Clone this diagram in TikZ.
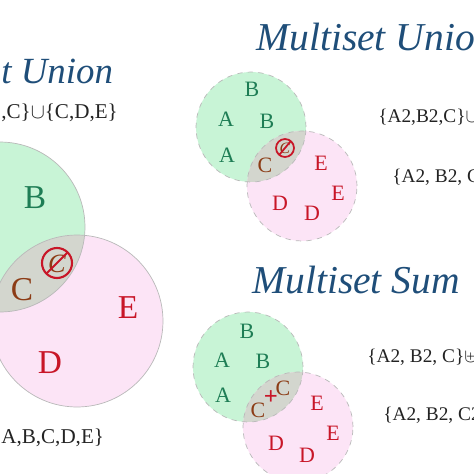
\documentclass[tikz,border=0pt]{standalone}
\usepackage{fontspec}
\setmainfont{Liberation Serif}
\usetikzlibrary{positioning}
\definecolor{slate}{RGB}{31,78,121}
\definecolor{mint}{RGB}{200,244,214}
\definecolor{blush}{RGB}{252,228,246}
\definecolor{overlap}{RGB}{211,214,206}
\definecolor{pine}{RGB}{30,125,85}
\definecolor{crimson}{RGB}{200,22,40}
\definecolor{rust}{RGB}{140,60,22}
\definecolor{ink}{RGB}{35,35,35}
\tikzset{
  heading/.style={font=\fontsize{22.5}{27}\selectfont\itshape,text=slate,inner sep=0pt},
  setline/.style={font=\fontsize{11}{14}\selectfont,text=ink,inner sep=0pt},
  bigel/.style={font=\fontsize{19}{22}\selectfont,text=#1,inner sep=0pt},
  bigel/.default=pine,
  smallel/.style={font=\fontsize{12.5}{15}\selectfont,text=#1,inner sep=0pt},
  smallel/.default=pine,
  rim/.style={draw=gray!55,thin},
  cross/.style={draw=crimson,line width=1.2pt},
}
\begin{document}
\begin{tikzpicture}[x=0.02cm,y=-0.02cm]
  \useasboundingbox (0,0) rectangle (474,474);
  \clip (0,0) rectangle (474,474);
  % set union (left)
  \coordinate (gL) at (0,227); \coordinate (pL) at (77,321);
  \fill[mint] (gL) circle[radius=1.7cm];
  \fill[blush] (pL) circle[radius=1.72cm];
  \begin{scope}
    \clip (gL) circle[radius=1.7cm];
    \fill[overlap] (pL) circle[radius=1.72cm];
  \end{scope}
  \draw[rim] (gL) circle[radius=1.7cm];
  \draw[rim] (pL) circle[radius=1.72cm];
  \node[heading,font=\fontsize{21}{25}\selectfont\itshape,anchor=base west] (tL) at (1,83) {t Union};
  \node[setline,font=\fontsize{12}{15}\selectfont,anchor=base west] (qL) at (1,118) {,C\}$\cup$\{C,D,E\}};
  \node[setline,font=\fontsize{12}{15}\selectfont,anchor=base west] (rL) at (1,443) {A,B,C,D,E\}};
  \node[bigel] (b1) at (35,198) {B};
  \node[bigel=rust] (c1) at (22,290) {C};
  \node[bigel=crimson] (e1) at (128,308) {E};
  \node[bigel=crimson] (d1) at (50,363) {D};
  \node[font=\fontsize{15}{17}\selectfont\itshape,text=rust,inner sep=0pt] (x1) at (57,264) {C};
  \draw[cross] (57,263) circle[radius=0.3cm];
  \draw[cross] ([shift={(45:0.3cm)}]57,263) -- ([shift={(225:0.3cm)}]57,263);
  % multiset union (top right)
  \coordinate (gU) at (251,127); \coordinate (pU) at (302,186);
  \fill[mint] (gU) circle[radius=1.1cm];
  \fill[blush] (pU) circle[radius=1.1cm];
  \begin{scope}
    \clip (gU) circle[radius=1.1cm];
    \fill[overlap] (pU) circle[radius=1.1cm];
  \end{scope}
  \draw[rim,dashed] (gU) circle[radius=1.1cm];
  \draw[rim,dashed] (pU) circle[radius=1.1cm];
  \node[heading,anchor=base west] (tU) at (256,50) {Multiset Unio};
  \node[setline,anchor=base west] (qU) at (378,122) {\{A2,B2,C\}$\cup$};
  \node[setline,anchor=base west] (rU) at (392,182) {\{A2, B2, C};
  \node[smallel] (b2) at (252,89) {B};
  \node[smallel] (a2) at (226,119) {A};
  \node[smallel] (b3) at (267,121) {B};
  \node[smallel] (a3) at (227,155) {A};
  \node[smallel=rust] (c2) at (265,165) {C};
  \node[smallel=crimson] (e2) at (321,163) {E};
  \node[smallel=crimson] (e3) at (338,193) {E};
  \node[smallel=crimson] (d2) at (280,203) {D};
  \node[smallel=crimson] (d3) at (312,213) {D};
  \node[font=\fontsize{9}{10}\selectfont\itshape,text=rust,inner sep=0pt] (x2) at (285,148) {C};
  \draw[cross,line width=1pt] (285,148) circle[radius=0.18cm];
  \draw[cross,line width=1pt] ([shift={(50:0.18cm)}]285,148) -- ([shift={(230:0.18cm)}]285,148);
  % multiset sum (bottom right)
  \coordinate (gS) at (248,367); \coordinate (pS) at (298,427);
  \fill[mint] (gS) circle[radius=1.1cm];
  \fill[blush] (pS) circle[radius=1.1cm];
  \begin{scope}
    \clip (gS) circle[radius=1.1cm];
    \fill[overlap] (pS) circle[radius=1.1cm];
  \end{scope}
  \draw[rim,dashed] (gS) circle[radius=1.1cm];
  \draw[rim,dashed] (pS) circle[radius=1.1cm];
  \node[heading,anchor=base west] (tS) at (252,293) {Multiset Sum};
  \node[setline,anchor=base west] (qS) at (367,362) {\{A2, B2, C\}$\uplus$};
  \node[setline,anchor=base west] (rS) at (383,420) {\{A2, B2, C2};
  \node[smallel] (b4) at (247,331) {B};
  \node[smallel] (a4) at (222,360) {A};
  \node[smallel] (b5) at (263,361) {B};
  \node[smallel] (a5) at (223,395) {A};
  \node[smallel=rust] (c3) at (258,410) {C};
  \node[font=\fontsize{14}{16}\selectfont\bfseries,text=crimson,inner sep=0pt] (plus) at (271,398) {+};
  \node[smallel=rust] (c4) at (283,388) {C};
  \node[smallel=crimson] (e4) at (317,403) {E};
  \node[smallel=crimson] (e5) at (333,433) {E};
  \node[smallel=crimson] (d4) at (276,443) {D};
  \node[smallel=crimson] (d5) at (307,455) {D};
\end{tikzpicture}
\end{document}
